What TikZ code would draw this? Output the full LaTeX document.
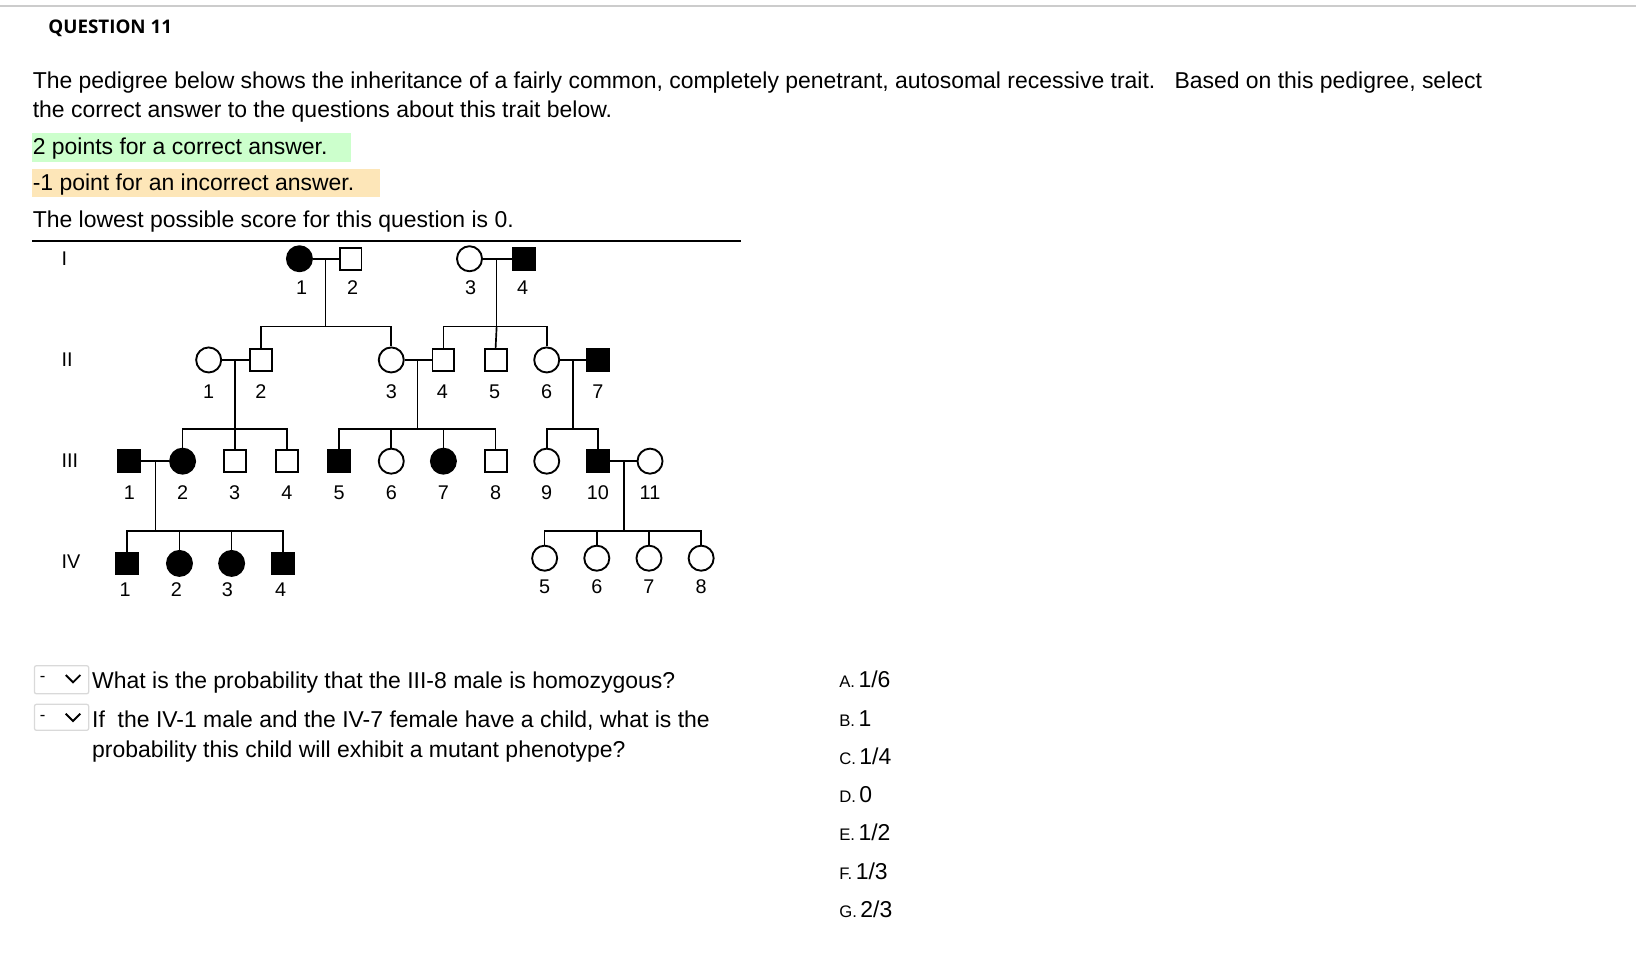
\documentclass[tikz,border=0pt]{standalone}
\usepackage{fontspec}
\setmainfont{Liberation Sans}
\newfontfamily\qfont{Open Sans}
\begin{document}
\begin{tikzpicture}[x=0.5pt,y=-0.5pt,
  m/.style={draw,line width=0.9pt,minimum size=10.5pt,inner sep=0pt},
  f/.style={draw,circle,line width=0.9pt,minimum size=12pt,inner sep=0pt},
  am/.style={m,fill=black},
  af/.style={f,fill=black},
  lab/.style={font=\fontsize{9.5}{10}\selectfont,anchor=base},
  gen/.style={font=\fontsize{9.5}{10}\selectfont,anchor=west},
  txt/.style={font=\fontsize{11}{13}\selectfont,anchor=base west,inner sep=0pt},
  ln/.style={line width=0.8pt}]
\useasboundingbox (0,0) rectangle (1568,924);
\draw[gray!40,line width=0.8pt] (0,6) -- (1568,6);
\node[anchor=base west,inner sep=0pt,font=\qfont\bfseries\fontsize{9}{10}\selectfont] (q) at (46,32) {QUESTION 11};
\node[txt] (p1) at (31,85) {The pedigree below shows the inheritance of a fairly common, completely penetrant, autosomal recessive trait.\ \ \ Based on this pedigree, select};
\node[txt] (p2) at (31,113) {the correct answer to the questions about this trait below.};
\fill[green!55!cyan!25!white,fill=green!20] (31,127) rectangle (336,155);
\fill[yellow!30!orange!25!white] (31,162) rectangle (364,189);
\node[txt] (g) at (31,148) {2 points for a correct answer.};
\node[txt] (y) at (31,183) {-1 point for an incorrect answer.};
\node[txt] (l) at (31,218) {The lowest possible score for this question is 0.};
\draw[line width=0.7pt] (31,231) -- (710,231);
% generation labels
\node[gen] at (52,248) {I};
\node[gen] at (52,345) {II};
\node[gen] at (52,442) {III};
\node[gen] at (52,538) {IV};
% Gen I
\node[af] (i1) at (287,248) {}; \node[m] (i2) at (336,248) {};
\node[f] (i3) at (450,248) {}; \node[am] (i4) at (502,248) {};
\foreach \n/\x in {1/289,2/338,3/451,4/501} \node[lab] at (\x,282) {\n};
% Gen II
\node[f] (ii1) at (200,345) {}; \node[m] (ii2) at (250,345) {};
\node[f] (ii3) at (375,345) {}; \node[m] (ii4) at (425,345) {};
\node[m] (ii5) at (475,345) {}; \node[f] (ii6) at (524,345) {};
\node[am] (ii7) at (573,345) {};
\foreach \n/\x in {1/200,2/250,3/375,4/424,5/474,6/524,7/573} \node[lab] at (\x,382) {\n};
% Gen III
\node[am] (iii1) at (124,442) {}; \node[af] (iii2) at (175,442) {};
\node[m] (iii3) at (225,442) {}; \node[m] (iii4) at (275,442) {};
\node[am] (iii5) at (325,442) {}; \node[f] (iii6) at (375,442) {};
\node[af] (iii7) at (425,442) {}; \node[m] (iii8) at (475,442) {};
\node[f] (iii9) at (524,442) {}; \node[am] (iii10) at (573,442) {};
\node[f] (iii11) at (623,442) {};
\foreach \n/\x in {1/124,2/175,3/225,4/275,5/325,6/375,7/425,8/475,9/524,10/573,11/623} \node[lab] at (\x,479) {\n};
% Gen IV
\node[am] (iv1) at (122,540) {}; \node[af] (iv2) at (172,540) {};
\node[af] (iv3) at (222,540) {}; \node[am] (iv4) at (271,540) {};
\node[f] (iv5) at (522,535) {}; \node[f] (iv6) at (572,535) {};
\node[f] (iv7) at (622,535) {}; \node[f] (iv8) at (672,535) {};
\foreach \n/\x in {1/120,2/169,3/218,4/269} \node[lab] at (\x,572) {\n};
\foreach \n/\x in {5/522,6/572,7/622,8/672} \node[lab] at (\x,569) {\n};
% mating lines and descents
\draw[ln] (i1) -- (i2); \draw[ln] (i3) -- (i4);
\coordinate (c1) at (312,248); \coordinate (c2) at (476,248);
\coordinate (s1) at (312,313); \coordinate (s2) at (476,313);
\draw[ln] (c1) -- (s1); \draw[ln] (c2) -- (s2);
\draw[ln] (ii2.north) |- (s1) -| (ii3.north);
\draw[ln] (ii4.north) |- (s2) -| (ii6.north); \draw[ln] (s2) -- (ii5.north);
\draw[ln] (ii1) -- (ii2); \draw[ln] (ii3) -- (ii4); \draw[ln] (ii6) -- (ii7);
\coordinate (c3) at (225,345); \coordinate (s3) at (225,411);
\coordinate (c4) at (400,345); \coordinate (s4) at (400,411);
\coordinate (c5) at (549,345); \coordinate (s5) at (549,411);
\draw[ln] (c3) -- (s3); \draw[ln] (c4) -- (s4); \draw[ln] (c5) -- (s5);
\draw[ln] (iii2.north) |- (s3) -| (iii4.north); \draw[ln] (s3) -- (iii3.north);
\draw[ln] (iii5.north) |- (s4) -| (iii8.north);
\coordinate (s4a) at (375,411); \coordinate (s4b) at (425,411);
\draw[ln] (s4a) -- (iii6.north); \draw[ln] (s4b) -- (iii7.north);
\draw[ln] (iii9.north) |- (s5) -| (iii10.north);
\draw[ln] (iii1) -- (iii2); \draw[ln] (iii10) -- (iii11);
\coordinate (c6) at (149,442); \coordinate (s6) at (149,509);
\coordinate (c7) at (598,442); \coordinate (s7) at (598,509);
\draw[ln] (c6) -- (s6); \draw[ln] (c7) -- (s7);
\draw[ln] (iv1.north) |- (s6) -| (iv4.north);
\coordinate (s6a) at (172,509); \coordinate (s6b) at (222,509);
\draw[ln] (s6a) -- (iv2.north); \draw[ln] (s6b) -- (iv3.north);
\draw[ln] (iv5.north) |- (s7) -| (iv8.north);
\coordinate (s7a) at (572,509); \coordinate (s7b) at (622,509);
\draw[ln] (s7a) -- (iv6.north); \draw[ln] (s7b) -- (iv7.north);
% questions
\draw[gray!30,line width=0.6pt,rounded corners=1pt] (33,638) rectangle (85,665);
\draw[gray!30,line width=0.6pt,rounded corners=1pt] (33,675) rectangle (85,700);
\node[font=\fontsize{8}{9}\selectfont] (d1) at (41,651) {-};
\node[font=\fontsize{8}{9}\selectfont] (d2) at (41,688) {-};
\draw[line width=0.9pt] (63,647) -- (70,654) -- (77,647);
\draw[line width=0.9pt] (63,684) -- (70,691) -- (77,684);
\node[txt] (qa) at (88,660) {What is the probability that the III-8 male is homozygous?};
\node[txt] (qb) at (88,697) {If\ \ the IV-1 male and the IV-7 female have a child, what is the};
\node[txt] (qc) at (88,726) {probability this child will exhibit a mutant phenotype?};
\foreach \L/\v/\yy in {A./1\slash 6/659,B./1/696,C./1\slash 4/733,D./0/769,E./1\slash 2/806,F./1\slash 3/843,G./2\slash 3/879}
  \node[anchor=base west,inner sep=0pt] at (804,\yy) {{\fontsize{8}{9}\selectfont\L}\,{\fontsize{11}{13}\selectfont\v}};
\end{tikzpicture}
\end{document}
